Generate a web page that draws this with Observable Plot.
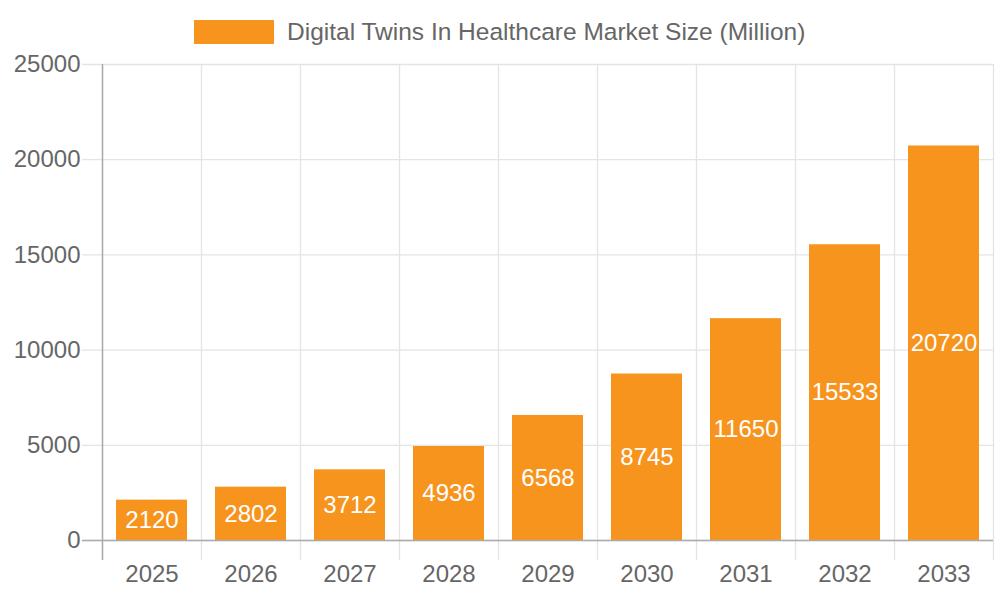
<!DOCTYPE html>
<html>
<head>
<meta charset="utf-8">
<script src="https://cdn.jsdelivr.net/npm/d3@7"></script>
<script src="https://cdn.jsdelivr.net/npm/@observablehq/plot@0.6"></script>
<style>
  html, body { margin: 0; padding: 0; background: #fff; }
  body { width: 1000px; height: 600px; overflow: hidden; font-family: "Liberation Sans", Arial, sans-serif; }
  #legend { height: 50px; position: relative; }
  #legend .box { position: absolute; left: 194px; top: 20px; width: 80px; height: 24px; background: #F7941E; }
  #legend .lab { position: absolute; left: 287px; top: 17px; font-size: 24.5px; color: #666; white-space: nowrap; line-height: 30px; }
</style>
</head>
<body>
<div id="legend"><div class="box"></div><div class="lab">Digital Twins In Healthcare Market Size (Million)</div></div>
<div id="chart"></div>
<script>
const years = ["2025","2026","2027","2028","2029","2030","2031","2032","2033"];
const values = [2120, 2802, 3712, 4936, 6568, 8745, 11650, 15533, 20720];
const yTicks = [0, 5000, 10000, 15000, 20000, 25000];
const seriesName = "Digital Twins In Healthcare Market Size (Million)";

const data = years.map((y, i) => ({year: y, value: values[i]}));

const W = 1000, H = 550;
const mL = 102, mR = 7, mT = 14, mB = 60;
const step = (W - mL - mR) / years.length;
const orange = "#F7941E";
const grid = "#e4e4e4";
const axisCol = "#aaaaaa";
const textCol = "#666666";

const chart = Plot.plot({
  width: W,
  height: H,
  marginLeft: mL,
  marginRight: mR,
  marginTop: mT,
  marginBottom: mB,
  style: {fontFamily: "'Liberation Sans', Arial, sans-serif", background: "#fff", overflow: "visible"},
  x: {type: "band", domain: years, padding: 0},
  y: {domain: [0, 25000]},
  marks: [
    Plot.ruleY(yTicks, {y: d => d, stroke: grid, strokeWidth: 1.3, insetLeft: -20}),
    Plot.ruleX(years, {x: d => d, dx: -step / 2, y1: 25000, y2: 0, stroke: grid, strokeWidth: 1.3, insetBottom: -20}),
    Plot.ruleX([years[years.length - 1]], {x: d => d, dx: step / 2, y1: 25000, y2: 0, stroke: grid, strokeWidth: 1.3, insetBottom: -20}),
    Plot.barY(data, {x: "year", y: "value", fill: orange, insetLeft: 14, insetRight: 14}),
    Plot.ruleX([years[0]], {x: d => d, dx: -step / 2, y1: 25000, y2: 0, stroke: axisCol, strokeWidth: 1.5, insetBottom: -20}),
    Plot.ruleY([0], {y: d => d, stroke: axisCol, strokeWidth: 1.5, insetLeft: -20}),
    Plot.text(data, {x: "year", y: d => d.value / 2, text: d => String(d.value), fill: "#fff", fontSize: 24}),
    Plot.axisY({ticks: yTicks, tickSize: 0, tickPadding: 22, fontSize: 24, fill: textCol, tickFormat: d => String(d), label: null}),
    Plot.axisX({tickSize: 0, tickPadding: 24, fontSize: 24, fill: textCol, label: null})
  ]
});
document.getElementById("chart").appendChild(chart);
</script>
</body>
</html>
